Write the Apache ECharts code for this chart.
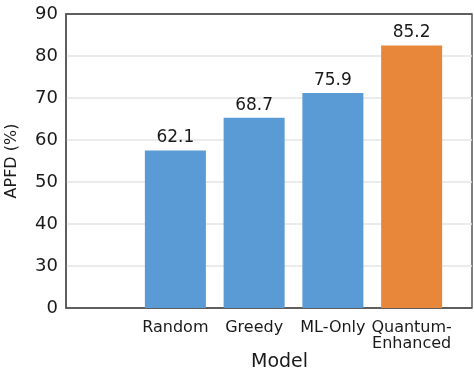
<!DOCTYPE html>
<html>
<head>
<meta charset="utf-8">
<script src="https://cdn.jsdelivr.net/npm/echarts@6/dist/echarts.min.js"></script>
<style>
  html, body { margin: 0; padding: 0; background: #fff; }
  #chart { width: 474px; height: 377px; }
</style>
</head>
<body>
<div id="chart"></div>
<script>
// APFD per model
var models = ["Random", "Greedy", "ML-Only", "Quantum-\nEnhanced"];
// bar heights as drawn against the (broken) y axis
var barHeights = [57.5, 65.3, 71.2, 82.5];
// printed values above the bars
var valueLabels = ["62.1", "68.7", "75.9", "85.2"];
var barColors = ["#5b9bd5", "#5b9bd5", "#5b9bd5", "#e8873a"];
// y axis runs 20..90 but its bottom tick is printed as 0
var yMin = 20, yMax = 90, yStep = 10;

(function () {
  var myChart = echarts.init(document.getElementById("chart"));
  var font = "DejaVu Sans";
  var frame = "#555", light = "#e4e4e4";

  var option = {
    animation: false,
    textStyle: { fontFamily: font },
    grid: [
      // frame + y axis
      { left: 66, right: 2, top: 14, bottom: 69, outerBoundsMode: "none", show: true, borderColor: frame, borderWidth: 1.5, backgroundColor: "transparent" },
      // bars
      { left: 136, right: 23, top: 14, bottom: 69, outerBoundsMode: "none" }
    ],
    xAxis: [
      { gridIndex: 0, type: "category", data: [""], show: false },
      {
        gridIndex: 1,
        type: "category",
        data: models,
        axisLine: { show: false },
        axisTick: { show: false },
        axisLabel: { interval: 0, color: "#1a1a1a", fontSize: 16, margin: 12, lineHeight: 16 }
      }
    ],
    yAxis: [
      {
        gridIndex: 0,
        type: "value",
        min: yMin,
        max: yMax,
        interval: yStep,
        name: "APFD (%)",
        nameLocation: "middle",
        nameGap: 46,
        nameTextStyle: { color: "#1a1a1a", fontSize: 16 },
        axisLine: { show: true, lineStyle: { color: frame, width: 1.5 } },
        axisTick: { show: false },
        axisLabel: {
          color: "#1a1a1a",
          fontSize: 18,
          margin: 8,
          formatter: function (v) { return v === yMin ? "0" : String(v); }
        },
        splitLine: {
          show: true,
          lineStyle: { color: [frame, light, light, light, light, light, light, frame], width: 1.5 }
        }
      },
      { gridIndex: 1, type: "value", min: yMin, max: yMax, interval: yStep, show: false, splitLine: { show: false } }
    ],
    graphic: [
      {
        type: "text",
        left: 251,
        top: 353,
        style: { text: "Model", fontSize: 19, fill: "#1a1a1a", fontFamily: font }
      }
    ],
    series: [
      {
        type: "bar",
        xAxisIndex: 1,
        yAxisIndex: 1,
        barWidth: 61,
        data: barHeights.map(function (v, i) {
          return { value: v, itemStyle: { color: barColors[i] } };
        }),
        label: {
          show: true,
          position: "top",
          distance: 4,
          color: "#1a1a1a",
          fontSize: 17,
          formatter: function (p) { return valueLabels[p.dataIndex]; }
        }
      }
    ]
  };

  myChart.setOption(option);
})();
</script>
</body>
</html>
